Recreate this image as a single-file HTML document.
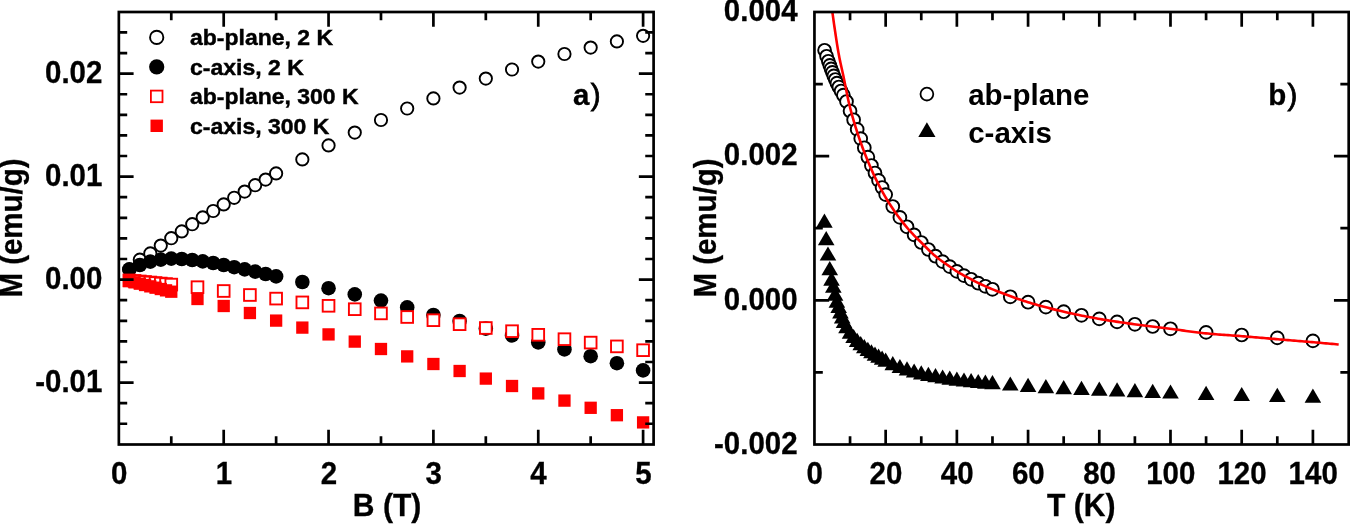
<!DOCTYPE html>
<html lang="en"><head><meta charset="utf-8"><title>Magnetization figure</title>
<style>html,body{margin:0;padding:0;background:#fff}svg{display:block}</style>
</head><body>
<svg width="1350" height="525" viewBox="0 0 1350 525">
<rect width="1350" height="525" fill="#fff"/>
<defs>
<clipPath id="ca"><rect x="118.85" y="12.0" width="534.75" height="432.5"/></clipPath>
<clipPath id="cb"><rect x="814.45" y="12.0" width="534.25" height="432.5"/></clipPath>
</defs>
<g clip-path="url(#ca)">
<g fill="#fff" stroke="#000" stroke-width="1.9">
<circle cx="129.33" cy="269.60" r="6.15"/>
<circle cx="139.82" cy="259.70" r="6.15"/>
<circle cx="150.31" cy="253.40" r="6.15"/>
<circle cx="160.79" cy="245.60" r="6.15"/>
<circle cx="171.27" cy="238.20" r="6.15"/>
<circle cx="181.76" cy="231.40" r="6.15"/>
<circle cx="192.25" cy="224.20" r="6.15"/>
<circle cx="202.73" cy="217.40" r="6.15"/>
<circle cx="213.21" cy="211.00" r="6.15"/>
<circle cx="223.70" cy="204.40" r="6.15"/>
<circle cx="234.19" cy="197.80" r="6.15"/>
<circle cx="244.67" cy="191.60" r="6.15"/>
<circle cx="255.16" cy="185.20" r="6.15"/>
<circle cx="265.64" cy="179.60" r="6.15"/>
<circle cx="276.12" cy="173.40" r="6.15"/>
<circle cx="302.34" cy="159.40" r="6.15"/>
<circle cx="328.55" cy="145.40" r="6.15"/>
<circle cx="354.76" cy="132.60" r="6.15"/>
<circle cx="380.98" cy="120.00" r="6.15"/>
<circle cx="407.19" cy="108.50" r="6.15"/>
<circle cx="433.40" cy="98.40" r="6.15"/>
<circle cx="459.61" cy="87.60" r="6.15"/>
<circle cx="485.82" cy="78.60" r="6.15"/>
<circle cx="512.04" cy="69.50" r="6.15"/>
<circle cx="538.25" cy="61.60" r="6.15"/>
<circle cx="564.46" cy="54.00" r="6.15"/>
<circle cx="590.67" cy="47.60" r="6.15"/>
<circle cx="616.89" cy="41.40" r="6.15"/>
<circle cx="643.10" cy="35.85" r="6.15"/>
</g>
<g fill="#000">
<circle cx="129.33" cy="269.40" r="7.3"/>
<circle cx="139.82" cy="265.00" r="7.3"/>
<circle cx="150.31" cy="261.60" r="7.3"/>
<circle cx="160.79" cy="259.60" r="7.3"/>
<circle cx="171.27" cy="258.60" r="7.3"/>
<circle cx="181.76" cy="259.00" r="7.3"/>
<circle cx="192.25" cy="260.00" r="7.3"/>
<circle cx="202.73" cy="261.40" r="7.3"/>
<circle cx="213.21" cy="263.00" r="7.3"/>
<circle cx="223.70" cy="265.00" r="7.3"/>
<circle cx="234.19" cy="267.20" r="7.3"/>
<circle cx="244.67" cy="269.40" r="7.3"/>
<circle cx="255.16" cy="271.60" r="7.3"/>
<circle cx="265.64" cy="274.00" r="7.3"/>
<circle cx="276.12" cy="276.40" r="7.3"/>
<circle cx="302.34" cy="282.00" r="7.3"/>
<circle cx="328.55" cy="288.20" r="7.3"/>
<circle cx="354.76" cy="294.40" r="7.3"/>
<circle cx="380.98" cy="300.60" r="7.3"/>
<circle cx="407.19" cy="307.40" r="7.3"/>
<circle cx="433.40" cy="315.00" r="7.3"/>
<circle cx="459.61" cy="321.00" r="7.3"/>
<circle cx="485.82" cy="328.60" r="7.3"/>
<circle cx="512.04" cy="335.40" r="7.3"/>
<circle cx="538.25" cy="342.40" r="7.3"/>
<circle cx="564.46" cy="349.40" r="7.3"/>
<circle cx="590.67" cy="356.20" r="7.3"/>
<circle cx="616.89" cy="363.20" r="7.3"/>
<circle cx="643.10" cy="370.40" r="7.3"/>
</g>
<g fill="#fff" stroke="#f00" stroke-width="1.9">
<rect x="123.48" y="274.55" width="11.7" height="11.7"/>
<rect x="128.73" y="275.07" width="11.7" height="11.7"/>
<rect x="133.97" y="275.60" width="11.7" height="11.7"/>
<rect x="139.21" y="276.12" width="11.7" height="11.7"/>
<rect x="144.46" y="276.65" width="11.7" height="11.7"/>
<rect x="149.70" y="277.17" width="11.7" height="11.7"/>
<rect x="154.94" y="277.70" width="11.7" height="11.7"/>
<rect x="160.18" y="278.23" width="11.7" height="11.7"/>
<rect x="165.42" y="278.75" width="11.7" height="11.7"/>
<rect x="191.64" y="281.35" width="11.7" height="11.7"/>
<rect x="217.85" y="285.15" width="11.7" height="11.7"/>
<rect x="244.06" y="289.15" width="11.7" height="11.7"/>
<rect x="270.27" y="292.75" width="11.7" height="11.7"/>
<rect x="296.49" y="296.55" width="11.7" height="11.7"/>
<rect x="322.70" y="299.95" width="11.7" height="11.7"/>
<rect x="348.91" y="303.35" width="11.7" height="11.7"/>
<rect x="375.12" y="307.55" width="11.7" height="11.7"/>
<rect x="401.34" y="311.15" width="11.7" height="11.7"/>
<rect x="427.55" y="314.35" width="11.7" height="11.7"/>
<rect x="453.76" y="318.35" width="11.7" height="11.7"/>
<rect x="479.97" y="322.15" width="11.7" height="11.7"/>
<rect x="506.19" y="325.35" width="11.7" height="11.7"/>
<rect x="532.40" y="328.95" width="11.7" height="11.7"/>
<rect x="558.61" y="333.35" width="11.7" height="11.7"/>
<rect x="584.82" y="336.75" width="11.7" height="11.7"/>
<rect x="611.04" y="340.55" width="11.7" height="11.7"/>
<rect x="637.25" y="344.35" width="11.7" height="11.7"/>
</g>
<g fill="#f00">
<rect x="123.18" y="274.85" width="12.3" height="12.3"/>
<rect x="128.43" y="276.19" width="12.3" height="12.3"/>
<rect x="133.67" y="277.53" width="12.3" height="12.3"/>
<rect x="138.91" y="278.86" width="12.3" height="12.3"/>
<rect x="144.16" y="280.20" width="12.3" height="12.3"/>
<rect x="149.40" y="281.54" width="12.3" height="12.3"/>
<rect x="154.64" y="282.88" width="12.3" height="12.3"/>
<rect x="159.88" y="284.21" width="12.3" height="12.3"/>
<rect x="165.12" y="285.55" width="12.3" height="12.3"/>
<rect x="191.34" y="292.85" width="12.3" height="12.3"/>
<rect x="217.55" y="299.85" width="12.3" height="12.3"/>
<rect x="243.76" y="306.85" width="12.3" height="12.3"/>
<rect x="269.98" y="314.45" width="12.3" height="12.3"/>
<rect x="296.19" y="321.45" width="12.3" height="12.3"/>
<rect x="322.40" y="328.25" width="12.3" height="12.3"/>
<rect x="348.61" y="335.45" width="12.3" height="12.3"/>
<rect x="374.83" y="342.85" width="12.3" height="12.3"/>
<rect x="401.04" y="350.25" width="12.3" height="12.3"/>
<rect x="427.25" y="357.85" width="12.3" height="12.3"/>
<rect x="453.46" y="364.85" width="12.3" height="12.3"/>
<rect x="479.67" y="372.45" width="12.3" height="12.3"/>
<rect x="505.89" y="379.85" width="12.3" height="12.3"/>
<rect x="532.10" y="387.25" width="12.3" height="12.3"/>
<rect x="558.31" y="394.45" width="12.3" height="12.3"/>
<rect x="584.52" y="401.65" width="12.3" height="12.3"/>
<rect x="610.74" y="409.05" width="12.3" height="12.3"/>
<rect x="636.95" y="416.25" width="12.3" height="12.3"/>
</g>
</g>
<circle cx="156.7" cy="37.4" r="6.65" fill="#fff" stroke="#000" stroke-width="1.9"/>
<circle cx="156.7" cy="66.9" r="7.6" fill="#000"/>
<rect x="150.89999999999998" y="90.60000000000001" width="11.6" height="11.6" fill="#fff" stroke="#f00" stroke-width="1.8"/>
<rect x="150.5" y="119.6" width="12.4" height="12.4" fill="#f00"/>
<g font-family='"Liberation Sans", sans-serif' font-weight="bold" font-size="23" fill="#000" stroke="#000" stroke-width="0.45">
<text transform="translate(190 45.2) scale(1 0.95)">ab-plane, 2 K</text>
<text transform="translate(190 74.6) scale(1 0.95)">c-axis, 2 K</text>
<text transform="translate(190 104.0) scale(1 0.95)">ab-plane, 300 K</text>
<text transform="translate(190 133.5) scale(1 0.95)">c-axis, 300 K</text>
</g>
<path d="M223.70 444.50v-14.75M223.70 12.00v14.75M328.55 444.50v-14.75M328.55 12.00v14.75M433.40 444.50v-14.75M433.40 12.00v14.75M538.25 444.50v-14.75M538.25 12.00v14.75M643.10 444.50v-14.75M643.10 12.00v14.75M171.27 444.50v-8.35M171.27 12.00v8.35M276.12 444.50v-8.35M276.12 12.00v8.35M380.98 444.50v-8.35M380.98 12.00v8.35M485.82 444.50v-8.35M485.82 12.00v8.35M590.67 444.50v-8.35M590.67 12.00v8.35M118.85 382.58h14.75M653.60 382.58h-14.75M118.85 279.60h14.75M653.60 279.60h-14.75M118.85 176.62h14.75M653.60 176.62h-14.75M118.85 73.64h14.75M653.60 73.64h-14.75M118.85 423.77h8.35M653.60 423.77h-8.35M118.85 403.18h8.35M653.60 403.18h-8.35M118.85 361.98h8.35M653.60 361.98h-8.35M118.85 341.39h8.35M653.60 341.39h-8.35M118.85 320.79h8.35M653.60 320.79h-8.35M118.85 300.20h8.35M653.60 300.20h-8.35M118.85 259.00h8.35M653.60 259.00h-8.35M118.85 238.41h8.35M653.60 238.41h-8.35M118.85 217.81h8.35M653.60 217.81h-8.35M118.85 197.22h8.35M653.60 197.22h-8.35M118.85 156.02h8.35M653.60 156.02h-8.35M118.85 135.43h8.35M653.60 135.43h-8.35M118.85 114.83h8.35M653.60 114.83h-8.35M118.85 94.24h8.35M653.60 94.24h-8.35M118.85 53.04h8.35M653.60 53.04h-8.35M118.85 32.45h8.35M653.60 32.45h-8.35" stroke="#000" stroke-width="2.7" fill="none"/>
<rect x="118.85" y="12.0" width="534.75" height="432.5" fill="none" stroke="#000" stroke-width="2.7"/>
<g clip-path="url(#cb)">
<g fill="#000">
<path d="M824.42 213.60l8.30 14.2h-16.6z"/>
<path d="M826.20 231.00l8.30 14.2h-16.6z"/>
<path d="M827.98 246.40l8.30 14.2h-16.6z"/>
<path d="M829.76 261.00l8.30 14.2h-16.6z"/>
<path d="M831.54 271.50l8.30 14.2h-16.6z"/>
<path d="M833.32 278.56l8.30 14.2h-16.6z"/>
<path d="M835.10 286.47l8.30 14.2h-16.6z"/>
<path d="M836.88 293.50l8.30 14.2h-16.6z"/>
<path d="M838.66 298.75l8.30 14.2h-16.6z"/>
<path d="M840.44 304.30l8.30 14.2h-16.6z"/>
<path d="M842.22 309.27l8.30 14.2h-16.6z"/>
<path d="M844.00 313.92l8.30 14.2h-16.6z"/>
<path d="M846.49 319.17l8.30 14.2h-16.6z"/>
<path d="M850.05 324.49l8.30 14.2h-16.6z"/>
<path d="M853.61 328.90l8.30 14.2h-16.6z"/>
<path d="M857.17 332.70l8.30 14.2h-16.6z"/>
<path d="M860.74 336.12l8.30 14.2h-16.6z"/>
<path d="M864.30 339.07l8.30 14.2h-16.6z"/>
<path d="M867.86 341.73l8.30 14.2h-16.6z"/>
<path d="M871.42 344.17l8.30 14.2h-16.6z"/>
<path d="M874.98 346.43l8.30 14.2h-16.6z"/>
<path d="M878.54 348.55l8.30 14.2h-16.6z"/>
<path d="M882.10 350.57l8.30 14.2h-16.6z"/>
<path d="M885.66 352.50l8.30 14.2h-16.6z"/>
<path d="M892.78 356.10l8.30 14.2h-16.6z"/>
<path d="M899.90 358.90l8.30 14.2h-16.6z"/>
<path d="M907.02 361.30l8.30 14.2h-16.6z"/>
<path d="M914.14 363.40l8.30 14.2h-16.6z"/>
<path d="M921.26 365.20l8.30 14.2h-16.6z"/>
<path d="M928.38 366.70l8.30 14.2h-16.6z"/>
<path d="M935.50 368.10l8.30 14.2h-16.6z"/>
<path d="M942.62 369.40l8.30 14.2h-16.6z"/>
<path d="M949.75 370.60l8.30 14.2h-16.6z"/>
<path d="M956.87 371.60l8.30 14.2h-16.6z"/>
<path d="M963.99 372.40l8.30 14.2h-16.6z"/>
<path d="M971.11 373.10l8.30 14.2h-16.6z"/>
<path d="M978.23 373.90l8.30 14.2h-16.6z"/>
<path d="M985.35 374.60l8.30 14.2h-16.6z"/>
<path d="M992.47 375.10l8.30 14.2h-16.6z"/>
<path d="M1010.27 376.40l8.30 14.2h-16.6z"/>
<path d="M1028.07 377.80l8.30 14.2h-16.6z"/>
<path d="M1045.88 379.00l8.30 14.2h-16.6z"/>
<path d="M1063.68 380.00l8.30 14.2h-16.6z"/>
<path d="M1081.48 380.70l8.30 14.2h-16.6z"/>
<path d="M1099.28 381.50l8.30 14.2h-16.6z"/>
<path d="M1117.08 382.30l8.30 14.2h-16.6z"/>
<path d="M1134.89 383.10l8.30 14.2h-16.6z"/>
<path d="M1152.69 383.80l8.30 14.2h-16.6z"/>
<path d="M1170.49 384.40l8.30 14.2h-16.6z"/>
<path d="M1206.09 385.70l8.30 14.2h-16.6z"/>
<path d="M1241.70 386.90l8.30 14.2h-16.6z"/>
<path d="M1277.30 387.80l8.30 14.2h-16.6z"/>
<path d="M1312.91 388.50l8.30 14.2h-16.6z"/>
</g>
<g fill="#fff" stroke="#000" stroke-width="1.9">
<circle cx="824.60" cy="50.30" r="6.4"/>
<circle cx="826.60" cy="56.30" r="6.4"/>
<circle cx="828.37" cy="61.30" r="6.4"/>
<circle cx="829.84" cy="65.40" r="6.4"/>
<circle cx="831.13" cy="68.90" r="6.4"/>
<circle cx="832.45" cy="72.40" r="6.4"/>
<circle cx="833.83" cy="75.90" r="6.4"/>
<circle cx="835.32" cy="79.50" r="6.4"/>
<circle cx="836.95" cy="83.20" r="6.4"/>
<circle cx="838.87" cy="87.00" r="6.4"/>
<circle cx="841.07" cy="91.00" r="6.4"/>
<circle cx="843.40" cy="95.20" r="6.4"/>
<circle cx="846.49" cy="101.50" r="6.4"/>
<circle cx="850.05" cy="111.00" r="6.4"/>
<circle cx="853.61" cy="119.80" r="6.4"/>
<circle cx="857.17" cy="129.40" r="6.4"/>
<circle cx="860.74" cy="138.60" r="6.4"/>
<circle cx="864.30" cy="147.80" r="6.4"/>
<circle cx="867.86" cy="157.10" r="6.4"/>
<circle cx="871.42" cy="165.50" r="6.4"/>
<circle cx="874.98" cy="173.00" r="6.4"/>
<circle cx="878.54" cy="180.40" r="6.4"/>
<circle cx="882.10" cy="187.50" r="6.4"/>
<circle cx="885.66" cy="194.60" r="6.4"/>
<circle cx="892.78" cy="206.50" r="6.4"/>
<circle cx="899.90" cy="217.40" r="6.4"/>
<circle cx="907.02" cy="226.80" r="6.4"/>
<circle cx="914.14" cy="234.90" r="6.4"/>
<circle cx="921.26" cy="242.50" r="6.4"/>
<circle cx="928.38" cy="249.50" r="6.4"/>
<circle cx="935.50" cy="256.20" r="6.4"/>
<circle cx="942.62" cy="261.60" r="6.4"/>
<circle cx="949.75" cy="266.60" r="6.4"/>
<circle cx="956.87" cy="271.40" r="6.4"/>
<circle cx="963.99" cy="275.60" r="6.4"/>
<circle cx="971.11" cy="279.30" r="6.4"/>
<circle cx="978.23" cy="283.20" r="6.4"/>
<circle cx="985.35" cy="286.30" r="6.4"/>
<circle cx="992.47" cy="289.30" r="6.4"/>
<circle cx="1010.27" cy="296.80" r="6.4"/>
<circle cx="1028.07" cy="302.20" r="6.4"/>
<circle cx="1045.88" cy="307.10" r="6.4"/>
<circle cx="1063.68" cy="311.70" r="6.4"/>
<circle cx="1081.48" cy="315.30" r="6.4"/>
<circle cx="1099.28" cy="318.90" r="6.4"/>
<circle cx="1117.08" cy="321.90" r="6.4"/>
<circle cx="1134.89" cy="324.30" r="6.4"/>
<circle cx="1152.69" cy="326.50" r="6.4"/>
<circle cx="1170.49" cy="328.80" r="6.4"/>
<circle cx="1206.09" cy="332.40" r="6.4"/>
<circle cx="1241.70" cy="335.00" r="6.4"/>
<circle cx="1277.30" cy="337.90" r="6.4"/>
<circle cx="1312.91" cy="340.90" r="6.4"/>
</g>
<path d="M831.00 1.77L831.50 5.54L832.00 9.29L832.50 13.00L833.00 16.67L833.50 20.28L834.00 23.82L834.50 27.29L835.00 30.67L835.50 34.03L836.00 37.36L836.50 40.66L837.00 43.89L837.50 47.02L838.00 50.03L838.50 52.90L839.00 55.60L839.50 58.17L840.00 60.62L840.50 62.98L841.00 65.27L841.50 67.53L842.00 69.76L842.50 71.99L843.00 74.26L843.50 76.58L844.00 78.97L844.50 81.42L845.00 83.92L845.50 86.44L846.00 88.97L846.50 91.49L847.00 93.97L847.50 96.39L848.00 98.74L848.50 101.00L849.00 103.17L849.50 105.27L850.00 107.29L850.50 109.24L851.00 111.12L851.50 112.97L852.00 114.80L852.50 116.59L853.00 118.35L853.50 120.09L854.00 121.81L854.50 123.49L855.00 125.15L855.50 126.79L856.00 128.40L856.50 129.98L857.00 131.55L857.50 133.09L858.00 134.60L858.50 136.10L859.00 137.58L859.50 139.04L860.00 140.48L860.50 141.91L861.00 143.31L861.50 144.70L862.00 146.07L862.50 147.43L863.00 148.77L863.50 150.10L864.00 151.41L864.50 152.70L865.00 153.98L865.50 155.25L866.00 156.51L866.50 157.75L867.00 158.98L867.50 160.21L868.00 161.42L868.50 162.63L869.00 163.82L869.50 165.00L870.00 166.18L870.50 167.34L871.00 168.49L871.50 169.64L872.00 170.77L872.50 171.88L873.00 172.99L873.50 174.09L874.00 175.17L874.50 176.24L875.00 177.30L875.50 178.35L876.00 179.38L876.50 180.40L877.00 181.40L877.50 182.40L878.00 183.38L878.50 184.36L879.00 185.32L879.50 186.28L880.00 187.24L880.50 188.18L881.00 189.12L881.50 190.05L882.00 190.97L882.50 191.88L883.00 192.78L883.50 193.68L884.00 194.57L884.50 195.45L885.00 196.32L885.50 197.18L886.00 198.03L886.50 198.88L887.00 199.71L887.50 200.54L888.00 201.36L888.50 202.17L889.00 202.97L889.50 203.76L890.00 204.54L890.50 205.31L891.00 206.08L891.50 206.83L892.00 207.58L892.50 208.33L893.00 209.06L893.50 209.80L894.00 210.52L894.50 211.25L895.00 211.96L895.50 212.67L896.00 213.37L896.50 214.07L897.00 214.77L897.50 215.45L898.00 216.14L898.50 216.81L899.00 217.48L899.50 218.15L900.00 218.81L902.00 221.41L904.00 223.92L906.00 226.36L908.00 228.73L910.00 231.02L912.00 233.20L914.00 235.28L916.00 237.30L918.00 239.28L920.00 241.25L922.00 243.24L924.00 245.25L926.00 247.27L928.00 249.26L930.00 251.22L932.00 253.11L934.00 254.92L936.00 256.61L938.00 258.20L940.00 259.73L942.00 261.19L944.00 262.61L946.00 264.00L948.00 265.39L950.00 266.78L952.00 268.17L954.00 269.54L956.00 270.86L958.00 272.09L960.00 273.27L962.00 274.41L964.00 275.52L966.00 276.61L968.00 277.67L970.00 278.72L972.00 279.76L974.00 280.80L976.00 281.81L978.00 282.81L980.00 283.79L982.00 284.75L984.00 285.69L986.00 286.59L988.00 287.46L990.00 288.30L992.00 289.11L994.00 289.91L996.00 290.69L998.00 291.48L1000.00 292.26L1002.00 293.03L1004.00 293.80L1006.00 294.55L1008.00 295.30L1010.00 296.05L1012.00 296.78L1014.00 297.50L1016.00 298.21L1018.00 298.90L1020.00 299.59L1022.00 300.26L1024.00 300.91L1026.00 301.55L1028.00 302.18L1030.00 302.79L1032.00 303.39L1034.00 303.98L1036.00 304.56L1038.00 305.13L1040.00 305.69L1042.00 306.25L1044.00 306.79L1046.00 307.33L1048.00 307.85L1050.00 308.37L1052.00 308.88L1054.00 309.38L1056.00 309.88L1058.00 310.36L1060.00 310.84L1062.00 311.31L1064.00 311.77L1066.00 312.23L1068.00 312.68L1070.00 313.12L1072.00 313.56L1074.00 313.99L1076.00 314.42L1078.00 314.84L1080.00 315.25L1082.00 315.66L1084.00 316.06L1086.00 316.45L1088.00 316.84L1090.00 317.22L1092.00 317.59L1094.00 317.96L1096.00 318.32L1098.00 318.68L1100.00 319.02L1102.00 319.37L1104.00 319.70L1106.00 320.03L1108.00 320.35L1110.00 320.67L1112.00 320.98L1114.00 321.29L1116.00 321.59L1118.00 321.89L1120.00 322.19L1122.00 322.48L1124.00 322.77L1126.00 323.06L1128.00 323.34L1130.00 323.62L1132.00 323.90L1134.00 324.18L1136.00 324.45L1138.00 324.72L1140.00 324.99L1142.00 325.25L1144.00 325.51L1146.00 325.76L1148.00 326.01L1150.00 326.26L1152.00 326.51L1154.00 326.76L1156.00 327.00L1158.00 327.25L1160.00 327.49L1162.00 327.74L1164.00 327.98L1166.00 328.23L1168.00 328.48L1170.00 328.74L1172.00 329.00L1174.00 329.26L1176.00 329.53L1178.00 329.80L1180.00 330.08L1182.00 330.36L1184.00 330.64L1186.00 330.92L1188.00 331.19L1190.00 331.47L1192.00 331.74L1194.00 332.00L1196.00 332.26L1198.00 332.50L1200.00 332.74L1202.00 332.97L1204.00 333.19L1206.00 333.39L1208.00 333.58L1210.00 333.77L1212.00 333.94L1214.00 334.11L1216.00 334.27L1218.00 334.43L1220.00 334.58L1222.00 334.73L1224.00 334.88L1226.00 335.03L1228.00 335.17L1230.00 335.32L1232.00 335.46L1234.00 335.61L1236.00 335.76L1238.00 335.91L1240.00 336.06L1242.00 336.22L1244.00 336.39L1246.00 336.55L1248.00 336.72L1250.00 336.89L1252.00 337.05L1254.00 337.22L1256.00 337.39L1258.00 337.56L1260.00 337.73L1262.00 337.90L1264.00 338.07L1266.00 338.24L1268.00 338.41L1270.00 338.58L1272.00 338.75L1274.00 338.92L1276.00 339.09L1278.00 339.26L1280.00 339.43L1282.00 339.59L1284.00 339.76L1286.00 339.93L1288.00 340.10L1290.00 340.26L1292.00 340.43L1294.00 340.60L1296.00 340.76L1298.00 340.93L1300.00 341.10L1302.00 341.27L1304.00 341.44L1306.00 341.61L1308.00 341.78L1310.00 341.95L1312.00 342.12L1314.00 342.30L1316.00 342.47L1318.00 342.64L1320.00 342.82L1322.00 343.00L1324.00 343.18L1326.00 343.35L1328.00 343.53L1330.00 343.71L1332.00 343.89L1334.00 344.07L1336.00 344.25L1338.00 344.44L1338.70 344.50" fill="none" stroke="#f00" stroke-width="2.6" stroke-linejoin="round"/>
</g>
<circle cx="926.9" cy="94.1" r="6.4" fill="#fff" stroke="#000" stroke-width="1.8"/>
<path d="M926.9 122.3l8.6 14.8h-17.2z" fill="#000"/>
<g font-family='"Liberation Sans", sans-serif' font-weight="bold" font-size="29.5" fill="#000">
<text x="968.2" y="104.7">ab-plane</text>
<text x="968.2" y="143.3">c-axis</text>
</g>
<path d="M885.66 444.50v-14.75M885.66 12.00v14.75M956.87 444.50v-14.75M956.87 12.00v14.75M1028.07 444.50v-14.75M1028.07 12.00v14.75M1099.28 444.50v-14.75M1099.28 12.00v14.75M1170.49 444.50v-14.75M1170.49 12.00v14.75M1241.70 444.50v-14.75M1241.70 12.00v14.75M1312.91 444.50v-14.75M1312.91 12.00v14.75M850.05 444.50v-8.35M850.05 12.00v8.35M921.26 444.50v-8.35M921.26 12.00v8.35M992.47 444.50v-8.35M992.47 12.00v8.35M1063.68 444.50v-8.35M1063.68 12.00v8.35M1134.89 444.50v-8.35M1134.89 12.00v8.35M1206.09 444.50v-8.35M1206.09 12.00v8.35M1277.30 444.50v-8.35M1277.30 12.00v8.35M814.45 300.30h14.75M1348.70 300.30h-14.75M814.45 156.14h14.75M1348.70 156.14h-14.75M814.45 372.38h8.35M1348.70 372.38h-8.35M814.45 228.22h8.35M1348.70 228.22h-8.35M814.45 84.06h8.35M1348.70 84.06h-8.35" stroke="#000" stroke-width="2.7" fill="none"/>
<rect x="814.45" y="12.0" width="534.25" height="432.5" fill="none" stroke="#000" stroke-width="2.7"/>
<g font-family='"Liberation Sans", sans-serif' font-weight="bold" font-size="29.5" fill="#000" stroke="#000" stroke-width="0.3">
<text transform="translate(102.40 83.04) scale(1 1.08)" text-anchor="end">0.02</text>
<text transform="translate(102.40 186.02) scale(1 1.08)" text-anchor="end">0.01</text>
<text transform="translate(102.40 289.00) scale(1 1.08)" text-anchor="end">0.00</text>
<text transform="translate(102.40 391.98) scale(1 1.08)" text-anchor="end">-0.01</text>
<text transform="translate(119.15 484.30) scale(1 1.08)" text-anchor="middle">0</text>
<text transform="translate(224.00 484.30) scale(1 1.08)" text-anchor="middle">1</text>
<text transform="translate(328.85 484.30) scale(1 1.08)" text-anchor="middle">2</text>
<text transform="translate(433.70 484.30) scale(1 1.08)" text-anchor="middle">3</text>
<text transform="translate(538.55 484.30) scale(1 1.08)" text-anchor="middle">4</text>
<text transform="translate(643.40 484.30) scale(1 1.08)" text-anchor="middle">5</text>
<text transform="translate(387.10 516.40) scale(1.02 1.04)" text-anchor="middle">B (T)</text>
<text transform="translate(22.00 228.00) rotate(-90) scale(1 1.04)" text-anchor="middle">M (emu/g)</text>
<text transform="translate(797.60 21.28) scale(1 1.08)" text-anchor="end">0.004</text>
<text transform="translate(797.60 165.44) scale(1 1.08)" text-anchor="end">0.002</text>
<text transform="translate(797.60 309.60) scale(1 1.08)" text-anchor="end">0.000</text>
<text transform="translate(797.60 453.76) scale(1 1.08)" text-anchor="end">-0.002</text>
<text transform="translate(814.75 484.30) scale(1 1.08)" text-anchor="middle">0</text>
<text transform="translate(885.96 484.30) scale(1 1.08)" text-anchor="middle">20</text>
<text transform="translate(957.17 484.30) scale(1 1.08)" text-anchor="middle">40</text>
<text transform="translate(1028.37 484.30) scale(1 1.08)" text-anchor="middle">60</text>
<text transform="translate(1099.58 484.30) scale(1 1.08)" text-anchor="middle">80</text>
<text transform="translate(1170.79 484.30) scale(1 1.08)" text-anchor="middle">100</text>
<text transform="translate(1242.00 484.30) scale(1 1.08)" text-anchor="middle">120</text>
<text transform="translate(1313.21 484.30) scale(1 1.08)" text-anchor="middle">140</text>
<text transform="translate(1081.30 516.40) scale(1.02 1.04)" text-anchor="middle">T (K)</text>
<text transform="translate(715.50 228.00) rotate(-90) scale(1 1.04)" text-anchor="middle">M (emu/g)</text>
<text transform="translate(573.00 104.80)" text-anchor="start">a<tspan font-weight="normal" stroke-width="0.8" dx="1.3">)</tspan></text>
<text transform="translate(1268.20 104.80)" text-anchor="start">b<tspan font-weight="normal" stroke-width="0.8" dx="1.3">)</tspan></text>
</g>
</svg>
</body></html>
